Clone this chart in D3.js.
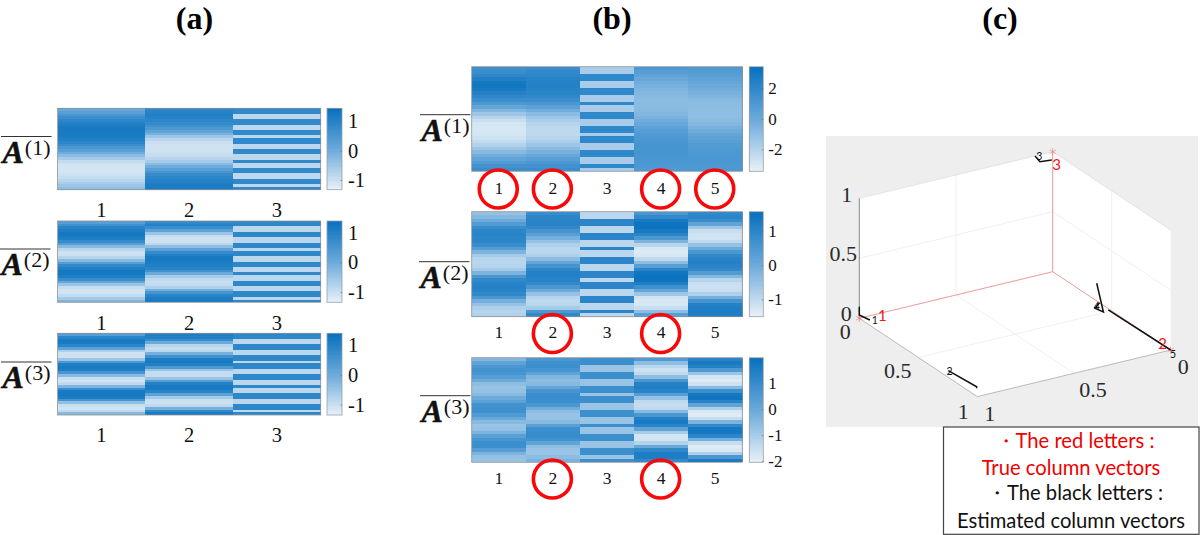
<!DOCTYPE html>
<html><head><meta charset="utf-8">
<script src="https://cdn.jsdelivr.net/npm/d3@7"></script>
<style>html,body{margin:0;padding:0;background:#fff}svg{display:block}text{font-family:"Liberation Serif",serif;fill:#111}</style>
</head><body><svg id="c" width="1200" height="535"></svg>
<script>
// ---- data ----
const panelTitles = ["(a)", "(b)", "(c)"];
const a1c1 = [0.1,0.3,0.5,0.7,0.9,1.05,1.15,1.2,1.2,1.2,1.15,1.05,0.9,0.7,0.5,0.3,0.0,-0.3,-0.6,-0.9,-1.05,-1.1,-1.1,-1.1,-1.05,-0.95,-0.8,-0.65,-0.5,-0.35];
const a1c2 = [0.9,1.0,1.05,1.0,0.9,0.8,0.65,0.45,0.2,-0.1,-0.5,-0.8,-1.0,-1.05,-1.05,-1.05,-1.0,-0.95,-0.8,-0.6,-0.3,0.0,0.3,0.55,0.75,0.9,1.0,1.1,1.15,1.15];
const a1c3 = [.85,.85,-.85,-.85,.85,.85,-.85,-.85,.85,.85,-.85,.85,.85,-.85,-.85,.85,.85,-.85,-.85,.85,-.85,-.85,.85,.85,-.85,-.85,.85,.85,-.85,.85];
const a2c1 = [0.3,0.6,0.9,1.1,1.2,1.15,1.05,0.75,0.3,-0.3,-0.85,-1.05,-1.05,-0.8,-0.3,0.3,0.8,1.05,1.2,1.2,1.05,0.7,0.1,-0.5,-0.95,-1.1,-1.1,-0.95,-0.6,-0.2];
const a2c2 = [0.8,1.0,0.7,0.2,-0.5,-0.95,-1.05,-1.05,-0.85,-0.4,0.2,0.75,1.0,1.15,1.15,1.1,1.05,0.9,0.6,0.0,-0.6,-0.9,-1.0,-0.95,-0.7,-0.1,0.5,0.9,1.1,1.15];
const a2c3 = [.85,.85,-.85,-.85,.85,.85,-.85,-.85,.85,.85,-.85,.85,.85,-.85,-.85,.85,.85,-.85,-.85,.85,-.85,-.85,.85,.85,-.85,-.85,.85,.85,-.85,.85];
const a3c1 = [0.3,0.9,1.15,1.15,0.9,0.2,-0.7,-1.05,-1.05,-0.5,0.4,1.05,1.15,1.05,0.5,-0.3,-1.0,-1.1,-0.9,-0.2,0.7,1.15,1.2,1.1,0.5,-0.4,-1.0,-1.1,-0.9,-0.3];
const a3c2 = [1.05,1.0,0.7,0.0,-0.8,-0.95,-0.85,-0.1,0.6,1.1,1.15,1.0,0.4,-0.5,-0.95,-0.95,-0.5,0.3,1.0,1.15,1.15,0.9,0.2,-0.6,-1.0,-1.05,-0.9,-0.1,0.8,1.15];
const a3c3 = [.85,.85,-.85,-.85,.85,.85,-.85,-.85,.85,.85,-.85,.85,.85,-.85,-.85,.85,.85,-.85,-.85,.85,-.85,-.85,.85,.85,-.85,-.85,.85,.85,-.85,.85];
const b1c1 = [1.5,1.7,2.0,2.5,2.9,3.0,2.8,2.4,2.1,1.6,1.0,0.2,-0.6,-1.4,-2.1,-2.6,-2.9,-3.0,-3.0,-2.9,-2.7,-2.4,-2.0,-1.4,-0.8,-0.2,0.3,0.8,1.3,1.7];
const b1c2 = [1.7,1.9,2.1,2.3,2.4,2.4,2.3,2.2,2.0,1.6,1.1,0.5,-0.2,-0.9,-1.4,-1.8,-2.1,-2.3,-2.3,-2.3,-2.1,-1.8,-1.4,-0.9,-0.4,0.1,0.6,1.0,1.4,1.6];
const b1c3 = [-1.7,-1.7,2,2,-1.7,-1.7,2,2,-1.7,-1.7,2,-1.7,-1.7,2,2,-1.7,-1.7,2,2,-1.7,2,2,-1.7,-1.7,2,2,-1.7,-1.7,2,-1.7];
const b1c4 = [1.0,0.7,0.4,0.1,-0.2,-0.4,-0.6,-0.7,-0.8,-0.9,-0.9,-0.9,-0.8,-0.7,-0.5,-0.2,0.1,0.4,0.7,0.9,1.0,1.1,1.2,1.2,1.2,1.15,1.1,1.0,1.0,0.9];
const b1c5 = [0.9,0.8,0.6,0.4,0.2,0.0,-0.2,-0.4,-0.6,-0.8,-0.9,-0.95,-1.0,-1.0,-1.0,-0.9,-0.7,-0.4,-0.1,0.2,0.4,0.6,0.8,0.9,1.0,1.05,1.05,1.05,1.0,1.0];
const b2c1 = [-0.5,-0.3,0.0,0.4,0.8,1.0,1.05,1.0,1.0,0.8,0.4,-0.2,-0.7,-0.9,-0.95,-0.9,-0.7,-0.2,0.5,0.9,1.05,1.1,1.05,0.9,0.5,-0.1,-0.5,-0.8,-0.9,-0.85];
const b2c2 = [0.8,1.0,1.05,1.05,0.9,0.6,0.3,-0.1,-0.5,-0.8,-0.95,-0.95,-0.8,-0.4,0.1,0.6,0.95,1.1,1.1,1.05,0.9,0.5,0.0,-0.5,-0.9,-1.0,-0.95,-0.7,0.5,0.9];
const b2c3 = [-.95,-.95,1,1,-.95,-.95,1,1,-.95,-.95,1,-.95,-.95,1,1,-.95,-.95,1,1,-.95,1,1,-.95,-.95,1,1,-.95,-.95,1,-.95];
const b2c4 = [0.5,0.9,1.3,1.45,1.45,1.3,1.0,0.5,-0.2,-0.9,-1.3,-1.35,-1.3,-1.0,-0.4,0.3,1.0,1.4,1.5,1.45,1.2,0.7,0.1,-0.6,-1.2,-1.3,-1.3,-1.1,-0.4,0.3];
const b2c5 = [0.9,1.0,0.8,0.2,-0.6,-1.1,-1.2,-1.2,-1.0,-0.5,0.0,0.5,0.9,1.05,1.1,1.05,0.9,0.4,-0.3,-0.9,-1.1,-1.15,-1.1,-0.8,-0.1,0.6,1.1,1.2,1.2,1.2];
const b3c1 = [-0.4,0.2,0.6,0.8,0.7,0.4,-0.1,-0.6,-0.8,-0.7,-0.5,-0.1,0.3,0.8,0.9,0.85,0.5,0.0,-0.5,-0.8,-0.7,-0.3,0.3,0.7,0.9,0.9,0.4,-0.3,-0.7,-0.75];
const b3c2 = [0.6,0.85,0.9,0.7,0.2,-0.4,-0.6,-0.5,0.1,0.7,0.9,0.95,0.9,0.6,-0.1,-0.6,-0.75,-0.7,-0.5,0.3,0.9,1.0,1.0,0.8,0.2,-0.6,-0.8,-0.8,-0.6,-0.3];
const b3c3 = [.9,.9,-.8,-.8,.9,.9,-.8,-.8,.9,.9,-.8,.9,.9,-.8,-.8,.9,.9,-.8,-.8,.9,-.8,-.8,.9,.9,-.8,-.8,.9,.9,-.8,.9];
const b3c4 = [0.5,-0.6,-1.3,-1.6,-1.4,-0.6,0.6,1.4,1.5,1.3,0.4,-0.7,-1.4,-1.5,-1.4,-0.5,0.6,1.4,1.6,1.3,0.2,-1.0,-1.7,-1.7,-1.2,0.0,1.1,1.5,1.5,1.1];
const b3c5 = [1.3,1.6,1.4,0.5,-0.8,-1.7,-1.9,-1.6,-0.5,0.9,1.7,1.8,1.3,0.2,-1.1,-1.8,-1.9,-1.5,-0.3,1.1,1.7,1.7,1.2,-0.2,-1.5,-1.9,-1.8,-1.1,0.6,1.6];

const colorRangeA1 = [-1.33, 1.44], colorRangeA2 = [-1.35, 1.4], colorRangeA3 = [-1.35, 1.4];
const colorRangeB1 = [-3.45, 3.42], colorRangeB2 = [-1.51, 1.57], colorRangeB3 = [-2.05, 1.99];
const ticksA = [-1, 0, 1], ticksB1 = [-2, 0, 2], ticksB2 = [-1, 0, 1], ticksB3 = [-2, -1, 0, 1];
const colsA = [1, 2, 3], colsB = [1, 2, 3, 4, 5];
const circledB1 = [1, 2, 4, 5], circledB2 = [2, 4], circledB3 = [2, 4];

// 3-D scatter: [x, y, z]
const trueVectors = [[1,0,0],[0,1,0],[0,0,1]];
const trueLabels = ["1","2","3"];
const estPath1 = [[1,0,0.097],[1,0,0.028],[0.97,0.04,0]];
const estPath2 = [[0.962,0.692,0],[0.946,0.906,0],[0.955,0.921,0]];
const estPath3 = [[0.0915,0,1.0],[0.066,0,0.942],[0.005,0,0.932]];
const estPath4 = [[0,0.373,0.147],[0.038,0.492,0],[0.049,0.438,0],[0,0.397,0]];
const estPath5 = [[0.008,0.484,0],[0,1,0]];
const estLabels = ["1","2","3","4","5"];
const estLabelPts = [[0.95,0.05,0],[0.96,0.70,0],[0.069,0,0.99],[0.027,0.418,0],[0,1.02,-0.02]];
const axisTicks = [0, 0.5, 1];
const legendLines = ["・The red letters :", "True column vectors", "・The black letters :", "Estimated column vectors"];

// ---- drawing ----
const svg = d3.select("#c");
const colorOf = dom => d3.scaleLinear()
  .domain([dom[0], (dom[0]+dom[1])/2, dom[1]])
  .range(["#e8f1f8", "#6aa9da", "#0670be"]).clamp(true);

function heat(p){
  const x = d3.scaleBand().domain(p.cols).range([p.x0, p.x1]);
  const y = d3.scaleBand().domain(d3.range(p.data[0].length)).range([p.y0, p.y1]);
  const col = colorOf(p.dom);
  const g = svg.append("g");
  p.data.forEach((vals, ci) => {
    g.append("g").attr("shape-rendering","crispEdges").selectAll("rect").data(vals).join("rect")
      .attr("x", x(p.cols[ci])).attr("width", x.bandwidth()+0.3)
      .attr("y", (d,i)=>y(i)).attr("height", y.bandwidth())
      .attr("fill", d=>col(d));
  });
  g.append("rect").attr("x",p.x0).attr("y",p.y0).attr("width",p.x1-p.x0).attr("height",p.y1-p.y0)
    .attr("fill","none").attr("stroke","#8c9197").attr("stroke-width",0.8);
  // column labels
  g.append("g").selectAll("text").data(p.cols).join("text")
    .attr("x", d=>x(d)+x.bandwidth()/2).attr("y", p.labY)
    .attr("text-anchor","middle").attr("dominant-baseline","central")
    .attr("font-size", p.labFs).text(d=>d);
  // red circles
  g.append("g").selectAll("circle").data(p.circled||[]).join("circle")
    .attr("cx", d=>x(d)+x.bandwidth()/2-0.5).attr("cy", p.circY).attr("r", 19)
    .attr("fill","none").attr("stroke","#f80808").attr("stroke-width",3.6);
  // colourbar
  const cy = d3.scaleLinear().domain(p.dom).range([p.y1, p.y0]);
  const steps = d3.range(64).map(i => p.dom[0] + (p.dom[1]-p.dom[0])*(i+0.5)/64);
  const h = (p.y1-p.y0)/64;
  g.append("g").attr("shape-rendering","crispEdges").selectAll("rect").data(steps).join("rect")
    .attr("x",p.cb0).attr("width",p.cb1-p.cb0)
    .attr("y",d=>cy(d)-h/2).attr("height",h).attr("fill",d=>col(d));
  g.append("rect").attr("x",p.cb0).attr("y",p.y0).attr("width",p.cb1-p.cb0).attr("height",p.y1-p.y0)
    .attr("fill","none").attr("stroke","#9aa0a6").attr("stroke-width",0.8);
  const ax = g.append("g").attr("transform",`translate(${p.cb1},0)`)
    .call(d3.axisRight(cy).tickValues(p.ticks).tickSize(-1.5).tickPadding(p.tickPad).tickFormat(d=>String(d)));
  ax.select(".domain").remove();
  ax.selectAll("line").attr("stroke","#666").attr("stroke-width",0.6);
  ax.selectAll("text").attr("font-size",p.tickFs).attr("font-family",'"Liberation Serif",serif');
  // row label A^(k)
  svg.append("line").attr("x1",p.lx).attr("x2",p.lx+50.5).attr("y1",p.ly).attr("y2",p.ly)
    .attr("stroke","#333").attr("stroke-width",1);
  const t = svg.append("text").attr("x",p.lx+1.5).attr("y",p.ly+26);
  t.append("tspan").attr("font-size",32).attr("font-weight","bold").attr("font-style","italic")
    .attr("stroke","#111").attr("stroke-width",0.5).text("A");
  t.append("tspan").attr("font-size",22).attr("dx",1).attr("dy",-8).text(`(${p.k})`);
}

const ax0=57.5, ax1=320.7, bx0=471.7, bx1=742.3;
const common = {labFs:20.5, tickFs:20.5, tickPad:6, cb0:327, cb1:342, x0:ax0, x1:ax1, cols:colsA, ticks:ticksA};
const commonB = {labFs:17.5, tickFs:17, tickPad:5, cb0:749.3, cb1:763.3, x0:bx0, x1:bx1, cols:colsB};
heat({...common,k:1,y0:108.3,y1:189.7,dom:colorRangeA1,data:[a1c1,a1c2,a1c3],labY:209.5,lx:1,ly:136.5});
heat({...common,k:2,y0:221,y1:302.3,dom:colorRangeA2,data:[a2c1,a2c2,a2c3],labY:322.5,lx:0,ly:249});
heat({...common,k:3,y0:333.3,y1:415,dom:colorRangeA3,data:[a3c1,a3c2,a3c3],labY:434.5,lx:1,ly:362});
heat({...commonB,k:1,y0:66.7,y1:171.3,dom:colorRangeB1,ticks:ticksB1,data:[b1c1,b1c2,b1c3,b1c4,b1c5],labY:187.5,circY:189,circled:circledB1,lx:420,ly:114.7});
heat({...commonB,k:2,y0:211.7,y1:316.7,dom:colorRangeB2,ticks:ticksB2,data:[b2c1,b2c2,b2c3,b2c4,b2c5],labY:332,circY:333.5,circled:circledB2,lx:419,ly:261.7});
heat({...commonB,k:3,y0:357.7,y1:462.3,dom:colorRangeB3,ticks:ticksB3,data:[b3c1,b3c2,b3c3,b3c4,b3c5],labY:477.5,circY:479,circled:circledB3,lx:420,ly:395.7});

// titles
svg.selectAll("text.title").data(panelTitles).join("text").attr("class","title")
  .attr("x",(d,i)=>[194.5,612,1000][i]).attr("y",29).attr("text-anchor","middle")
  .attr("font-size",32).attr("font-weight","bold").style("fill","#000").text(d=>d);

// panel (c)
const bg = svg.append("g");
bg.append("rect").attr("x",826).attr("y",136).attr("width",372).attr("height",291).attr("fill","#eeeeee");
const O = [1052.7, 271.7];
const sxx = d3.scaleLinear().domain([0,1]).range([0,-193.4]);
const sxy = d3.scaleLinear().domain([0,1]).range([0,46.6]);
const syx = d3.scaleLinear().domain([0,1]).range([0,118]);
const syy = d3.scaleLinear().domain([0,1]).range([0,78.3]);
const szy = d3.scaleLinear().domain([0,1]).range([0,-120]);
const P = ([x,y,z]) => [O[0]+sxx(x)+syx(y), O[1]+sxy(x)+syy(y)+szy(z)];
const line3 = d3.line().x(d=>P(d)[0]).y(d=>P(d)[1]);
const poly = pts => bg.append("path").attr("d", line3(pts)+"Z").attr("fill","#fff");
poly([[0,0,0],[1,0,0],[1,1,0],[0,1,0]]);
poly([[0,0,0],[1,0,0],[1,0,1],[0,0,1]]);
poly([[0,0,0],[0,1,0],[0,1,1],[0,0,1]]);
const seg = (a,b,c,w,dash) => { const s = bg.append("path").attr("d",line3([a,b])).attr("stroke",c).attr("stroke-width",w).attr("fill","none"); if(dash) s.attr("stroke-dasharray",dash); return s; };
const grid = "#ececec";
seg([.5,0,0],[.5,1,0],grid,.8); seg([0,.5,0],[1,.5,0],grid,.8);
seg([.5,0,0],[.5,0,1],grid,.8); seg([0,.5,0],[0,.5,1],grid,.8);
seg([1,0,.5],[0,0,.5],grid,.8); seg([0,0,.5],[0,1,.5],grid,.8);
seg([1,0,1],[0,0,1],"#dedede",.8); seg([0,0,1],[0,1,1],"#dedede",.8);
seg([1,0,0],[1,0,1],"#7c7c7c",.9);
seg([1,0,0],[1,1,0],"#a0a0a0",.7); seg([1,1,0],[0,1,0],"#a0a0a0",.7);
// true column vector axes
trueVectors.forEach(v => seg([0,0,0],v,"#ee9a9a",1));
bg.selectAll("path.star").data(trueVectors).join("path").attr("class","star")
  .attr("d", d3.symbol(d3.symbolAsterisk,36))
  .attr("transform", d=>`translate(${P(d)})`).attr("stroke","#f08080").attr("fill","none").attr("stroke-width",.7);
// estimated
[estPath1,estPath2,estPath3,estPath4,estPath5].forEach(p=>{
  bg.append("path").attr("d",line3(p)).attr("fill","none").attr("stroke","#111").attr("stroke-width",1.5);
});
bg.selectAll("text.est").data(estLabels).join("text").attr("class","est")
  .attr("x",(d,i)=>P(estLabelPts[i])[0]).attr("y",(d,i)=>P(estLabelPts[i])[1])
  .attr("text-anchor","middle").attr("dominant-baseline","central")
  .style("font-family","Lato, sans-serif").attr("font-size",10.5).style("fill","#111").text(d=>d);
const redOffset = [[23,-3.5],[-8,-7.5],[4,12.5]];
bg.selectAll("text.tv").data(trueLabels).join("text").attr("class","tv")
  .attr("x",(d,i)=>P(trueVectors[i])[0]+redOffset[i][0]).attr("y",(d,i)=>P(trueVectors[i])[1]+redOffset[i][1])
  .attr("text-anchor","middle").attr("dominant-baseline","central")
  .style("font-family","Lato, sans-serif").style("fill","#f01818").attr("font-size",15).text(d=>d);
// axis tick labels
const tl = (cls, fn, off) => bg.selectAll("text."+cls).data(axisTicks).join("text").attr("class",cls)
  .attr("x",(d,i)=>P(fn(d))[0]+off[i][0]).attr("y",(d,i)=>P(fn(d))[1]+off[i][1])
  .attr("text-anchor","middle").attr("dominant-baseline","central")
  .attr("font-size",22).style("fill","#2a2a2a").text(d=>d);
tl("tz",d=>[1,0,d],[[-13,-4.5],[-16,-4.5],[-12.5,-4]]);
tl("ty",d=>[1,d,0],[[-14,13.5],[-20.5,13.5],[-14,14.5]]);
tl("tx",d=>[d,1,0],[[12.5,16],[19,16.5],[12.5,17]]);

// legend box
svg.append("rect").attr("x",943.5).attr("y",427).attr("width",255.5).attr("height",107.3)
  .attr("fill","#fff").attr("stroke","#444").attr("stroke-width",1.2);
const legY=[447.5,475,500,527.5], legX=[1075,1071,1075,1071], legCol=["#f00000","#f00000","#111","#111"];
svg.selectAll("text.leg").data(legendLines).join("text").attr("class","leg")
  .attr("x",(d,i)=>legX[i]).attr("y",(d,i)=>legY[i]).attr("text-anchor","middle")
  .style("font-family",'Lato, "Noto Sans", sans-serif').attr("font-size",20.2)
  .style("fill",(d,i)=>legCol[i]).text(d=>d);
</script></body></html>
